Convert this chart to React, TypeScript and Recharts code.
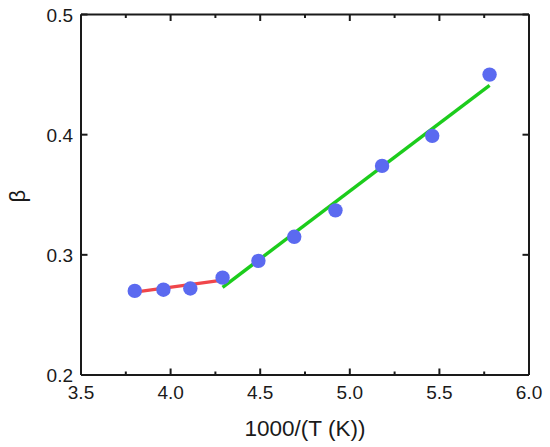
import React from 'react';
import { ComposedChart, XAxis, YAxis, Scatter, Line } from 'recharts';

const xMajorTicks = [3.5, 4.0, 4.5, 5.0, 5.5, 6.0];
const xMinorTicks = [3.75, 4.25, 4.75, 5.25, 5.75];
const yMajorTicks = [0.2, 0.3, 0.4, 0.5];

const invT = [3.8, 3.96, 4.11, 4.29, 4.49, 4.69, 4.92, 5.18, 5.46, 5.78];
const betaValues = [0.27, 0.271, 0.272, 0.281, 0.295, 0.315, 0.337, 0.374, 0.399, 0.45];

const redFitX = [3.8, 4.29];
const redFitY = [0.269, 0.279];
const greenFitX = [4.29, 5.78];
const greenFitY = [0.273, 0.441];

const points = invT.map((x, i) => ({ x, y: betaValues[i] }));
const redFit = redFitX.map((x, i) => ({ x, y: redFitY[i] }));
const greenFit = greenFitX.map((x, i) => ({ x, y: greenFitY[i] }));
const xAllTicks = [...xMajorTicks, ...xMinorTicks].sort((a, b) => a - b);

const FONT = '"Liberation Sans", Arial, sans-serif';
const INK = '#1a1a1a';
const MAJOR = 6.5;
const MINOR = 3.5;
const TW = 2;

const isMajorX = (v: number) => xMajorTicks.some((t) => Math.abs(t - v) < 1e-9);

const BottomTick = (props: any) => {
  const { x, y, payload } = props;
  const major = isMajorX(payload.value);
  return (
    <g>
      <path d={`M${x},${y}V${y - (major ? MAJOR : MINOR)}`} stroke={INK} strokeWidth={TW} fill="none" />
      {major && (
        <text x={x} y={y + 24} textAnchor="middle" fontFamily={FONT} fontSize={19} fill={INK}>
          {payload.value.toFixed(1)}
        </text>
      )}
    </g>
  );
};

const TopTick = (props: any) => {
  const { x, y, payload } = props;
  const major = isMajorX(payload.value);
  return <path d={`M${x},${y}V${y + (major ? MAJOR : MINOR)}`} stroke={INK} strokeWidth={TW} fill="none" />;
};

const LeftTick = (props: any) => {
  const { x, y, payload } = props;
  return (
    <g>
      <path d={`M${x},${y}H${x + MAJOR}`} stroke={INK} strokeWidth={TW} fill="none" />
      <text x={x - 8} y={y + 7} textAnchor="end" fontFamily={FONT} fontSize={19} fill={INK}>
        {payload.value.toFixed(1)}
      </text>
    </g>
  );
};

const RightTick = (props: any) => {
  const { x, y } = props;
  return <path d={`M${x},${y}H${x - MAJOR}`} stroke={INK} strokeWidth={TW} fill="none" />;
};

const XLabel = (props: any) => {
  const vb = props.viewBox;
  return (
    <text x={vb.x + vb.width / 2} y={vb.y + 61} textAnchor="middle" fontFamily={FONT} fontSize={22.5} fill={INK}>
      1000/(T (K))
    </text>
  );
};

const YLabel = (props: any) => {
  const vb = props.viewBox;
  const cx = 24.5;
  const cy = vb.y + vb.height / 2 + 1.5;
  return (
    <text x={cx} y={cy} transform={`rotate(-90 ${cx} ${cy})`} textAnchor="middle" fontFamily={FONT} fontSize={22} fill={INK}>
      β
    </text>
  );
};

const axisLine = { stroke: INK, strokeWidth: 2 };

export default function App() {
  return (
    <div style={{ position: 'absolute', left: 0, top: 0, background: '#fff' }}>
      <ComposedChart width={550} height={447} margin={{ top: 13.5, right: 20, bottom: 0, left: 0 }}>
        <XAxis
          xAxisId="b"
          type="number"
          dataKey="x"
          domain={[3.5, 6]}
          ticks={xAllTicks}
          interval={0}
          orientation="bottom"
          height={72}
          tickSize={0}
          tickMargin={0}
          tickLine={false}
          axisLine={axisLine}
          tick={<BottomTick />}
          allowDataOverflow
          label={<XLabel />}
        />
        <XAxis
          xAxisId="t"
          type="number"
          dataKey="x"
          domain={[3.5, 6]}
          ticks={xAllTicks}
          interval={0}
          orientation="top"
          height={1}
          tickSize={0}
          tickMargin={0}
          tickLine={false}
          axisLine={axisLine}
          tick={<TopTick />}
          allowDataOverflow
        />
        <YAxis
          yAxisId="l"
          type="number"
          domain={[0.2, 0.5]}
          ticks={yMajorTicks}
          interval={0}
          orientation="left"
          width={81}
          tickSize={0}
          tickMargin={0}
          tickLine={false}
          axisLine={axisLine}
          tick={<LeftTick />}
          allowDataOverflow
          label={<YLabel />}
        />
        <YAxis
          yAxisId="r"
          type="number"
          domain={[0.2, 0.5]}
          ticks={yMajorTicks}
          interval={0}
          orientation="right"
          width={1}
          tickSize={0}
          tickMargin={0}
          tickLine={false}
          axisLine={axisLine}
          tick={<RightTick />}
          allowDataOverflow
        />
        <Scatter
          xAxisId="b"
          yAxisId="l"
          data={points}
          dataKey="y"
          fill="#5b6af0"
          shape={(p: any) => <circle cx={p.cx} cy={p.cy} r={7.2} fill="#5b6af0" />}
          isAnimationActive={false}
        />
        <Scatter
          xAxisId="t"
          yAxisId="r"
          data={points}
          dataKey="y"
          shape={() => null}
          isAnimationActive={false}
        />
        <Line
          xAxisId="b"
          yAxisId="l"
          data={redFit}
          dataKey="y"
          type="linear"
          stroke="#f0464a"
          strokeWidth={3.2}
          dot={false}
          activeDot={false}
          isAnimationActive={false}
        />
        <Line
          xAxisId="b"
          yAxisId="l"
          data={greenFit}
          dataKey="y"
          type="linear"
          stroke="#1ccc1c"
          strokeWidth={3.4}
          dot={false}
          activeDot={false}
          isAnimationActive={false}
        />
      </ComposedChart>
    </div>
  );
}
